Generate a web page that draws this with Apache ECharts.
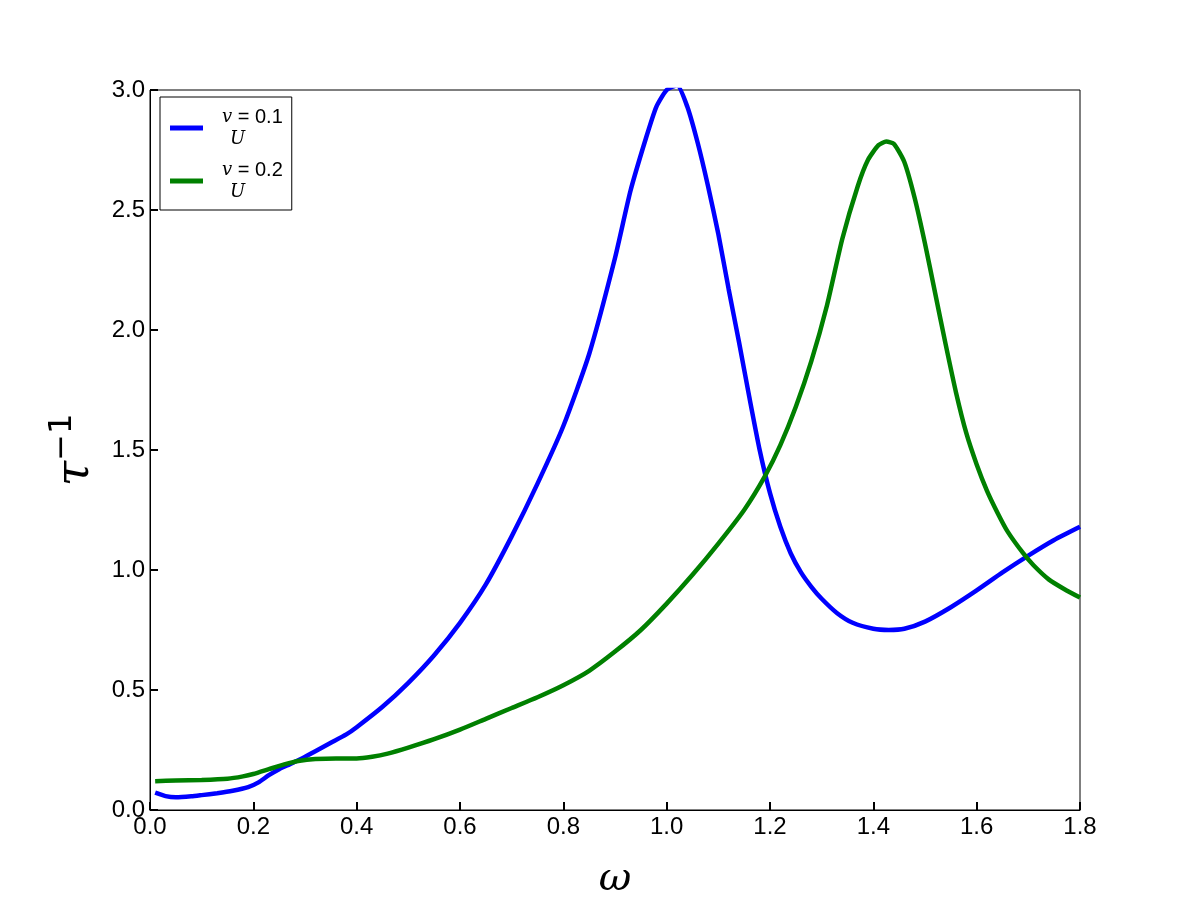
<!DOCTYPE html>
<html>
<head>
<meta charset="utf-8">
<script src="https://cdn.jsdelivr.net/npm/echarts@6/dist/echarts.min.js"></script>
<style>
  html, body { margin: 0; padding: 0; background: #fff; }
  #chart { width: 1200px; height: 900px; }
</style>
</head>
<body>
<div id="chart"></div>
<script>
// omega values and tau^-1 for each curve
const omegaV1 = [0.01, 0.03, 0.05, 0.08, 0.10, 0.13, 0.16, 0.19, 0.21, 0.23, 0.25, 0.27, 0.29, 0.32, 0.35, 0.38, 0.40,
  0.45, 0.50, 0.55, 0.60, 0.65, 0.70, 0.75, 0.80, 0.85, 0.90, 0.93, 0.96, 0.98, 1.00, 1.02, 1.04, 1.06, 1.08,
  1.10, 1.12, 1.14, 1.16, 1.18, 1.20, 1.22, 1.24, 1.26, 1.28, 1.30, 1.33, 1.36, 1.40, 1.43, 1.46, 1.50, 1.55,
  1.60, 1.65, 1.70, 1.75, 1.80];
const tauV1 = [0.072, 0.058, 0.053, 0.057, 0.062, 0.070, 0.080, 0.095, 0.115, 0.145, 0.170, 0.190, 0.210, 0.245, 0.280, 0.315, 0.345,
  0.43, 0.53, 0.645, 0.78, 0.94, 1.14, 1.36, 1.60, 1.90, 2.30, 2.58, 2.80, 2.93, 3.00, 3.02, 2.93, 2.78, 2.60,
  2.40, 2.17, 1.95, 1.72, 1.50, 1.32, 1.18, 1.07, 0.99, 0.93, 0.88, 0.82, 0.78, 0.755, 0.75, 0.755, 0.785, 0.845,
  0.915, 0.99, 1.06, 1.125, 1.18];

const omegaV2 = [0.01, 0.05, 0.10, 0.15, 0.18, 0.20, 0.23, 0.26, 0.29, 0.32, 0.36, 0.40, 0.43, 0.46, 0.50, 0.55,
  0.60, 0.65, 0.70, 0.75, 0.80, 0.85, 0.90, 0.95, 1.00, 1.05, 1.10, 1.15, 1.19, 1.22, 1.25, 1.28, 1.31, 1.34,
  1.37, 1.39, 1.41, 1.425, 1.44, 1.46, 1.48, 1.50, 1.52, 1.54, 1.56, 1.58, 1.60, 1.62, 1.64, 1.66, 1.69, 1.71, 1.74,
  1.77, 1.80];
const tauV2 = [0.12, 0.123, 0.125, 0.13, 0.14, 0.15, 0.17, 0.19, 0.205, 0.212, 0.215, 0.215, 0.222, 0.235, 0.26, 0.295,
  0.335, 0.38, 0.425, 0.47, 0.52, 0.58, 0.66, 0.75, 0.86, 0.98, 1.11, 1.25, 1.39, 1.52, 1.68, 1.87, 2.10, 2.38,
  2.60, 2.71, 2.77, 2.785, 2.775, 2.70, 2.55, 2.36, 2.15, 1.94, 1.74, 1.57, 1.44, 1.33, 1.24, 1.16, 1.07, 1.02, 0.96,
  0.92, 0.885];

const seriesNames = ['v01', 'v02'];
const legendValues = { v01: '0.1', v02: '0.2' };

const chart = echarts.init(document.getElementById('chart'));

const tickFont = { color: '#000', fontSize: 24, fontFamily: 'Liberation Sans, Arial, sans-serif' };

const option = {
  backgroundColor: '#fff',
  animation: false,
  grid: {
    left: 150, right: 120, top: 90, bottom: 90,
    outerBoundsMode: 'none',
    containLabel: false,
    show: true, borderColor: '#000', borderWidth: 1
  },
  legend: {
    left: 160, top: 97,
    orient: 'vertical',
    data: seriesNames,
    icon: 'rect',
    itemWidth: 33, itemHeight: 5,
    itemGap: 12,
    padding: [10, 9, 9, 10],
    borderColor: '#000', borderWidth: 1, borderRadius: 0,
    backgroundColor: '#fff',
    formatter: function (name) {
      return '{v|v}{t| = ' + legendValues[name] + '}\n{u|U}';
    },
    textStyle: {
      color: '#000',
      rich: {
        v: { fontFamily: 'DejaVu Serif, serif', fontStyle: 'italic', fontSize: 18, lineHeight: 22, padding: [0, 0, 0, 14] },
        t: { fontFamily: 'Liberation Sans, Arial, sans-serif', fontSize: 20, lineHeight: 22 },
        u: { fontFamily: 'DejaVu Serif, serif', fontStyle: 'italic', fontSize: 18, lineHeight: 22, padding: [0, 0, 0, 22] }
      }
    }
  },
  xAxis: {
    type: 'value',
    min: 0, max: 1.8, interval: 0.2,
    name: 'ω',
    nameLocation: 'middle',
    nameGap: 50,
    nameTextStyle: { fontFamily: 'DejaVu Serif, serif', fontStyle: 'italic', fontSize: 40, color: '#000' },
    axisLine: { lineStyle: { color: '#000', width: 1 } },
    axisTick: { inside: true, length: 8, lineStyle: { color: '#000', width: 2 } },
    axisLabel: Object.assign({ margin: 5, formatter: v => v.toFixed(1) }, tickFont),
    splitLine: { show: false }
  },
  yAxis: {
    type: 'value',
    min: 0, max: 3.0, interval: 0.5,
    name: '{t|τ}{s|−1}',
    nameLocation: 'middle',
    nameRotate: 90,
    nameGap: 45,
    nameTextStyle: {
      color: '#000',
      rich: {
        t: { fontFamily: 'DejaVu Serif, serif', fontStyle: 'italic', fontSize: 46, color: '#000' },
        s: { fontFamily: 'DejaVu Sans, sans-serif', fontSize: 32, color: '#000', verticalAlign: 'top', padding: [0, 0, 26, 0] }
      }
    },
    axisLine: { show: true, lineStyle: { color: '#000', width: 1 } },
    axisTick: { show: true, inside: true, length: 8, lineStyle: { color: '#000', width: 2 } },
    axisLabel: Object.assign({ margin: 5, formatter: v => v.toFixed(1) }, tickFont),
    splitLine: { show: false }
  },
  series: [
    {
      name: 'v01',
      type: 'line',
      data: omegaV1.map((w, i) => [w, tauV1[i]]),
      showSymbol: false,
      smooth: 0.2,
      clip: true,
      lineStyle: { color: '#0000ff', width: 4.5 },
      itemStyle: { color: '#0000ff' }
    },
    {
      name: 'v02',
      type: 'line',
      data: omegaV2.map((w, i) => [w, tauV2[i]]),
      showSymbol: false,
      smooth: 0.2,
      clip: true,
      lineStyle: { color: '#008000', width: 4.5 },
      itemStyle: { color: '#008000' }
    }
  ]
};

chart.setOption(option);
</script>
</body>
</html>
